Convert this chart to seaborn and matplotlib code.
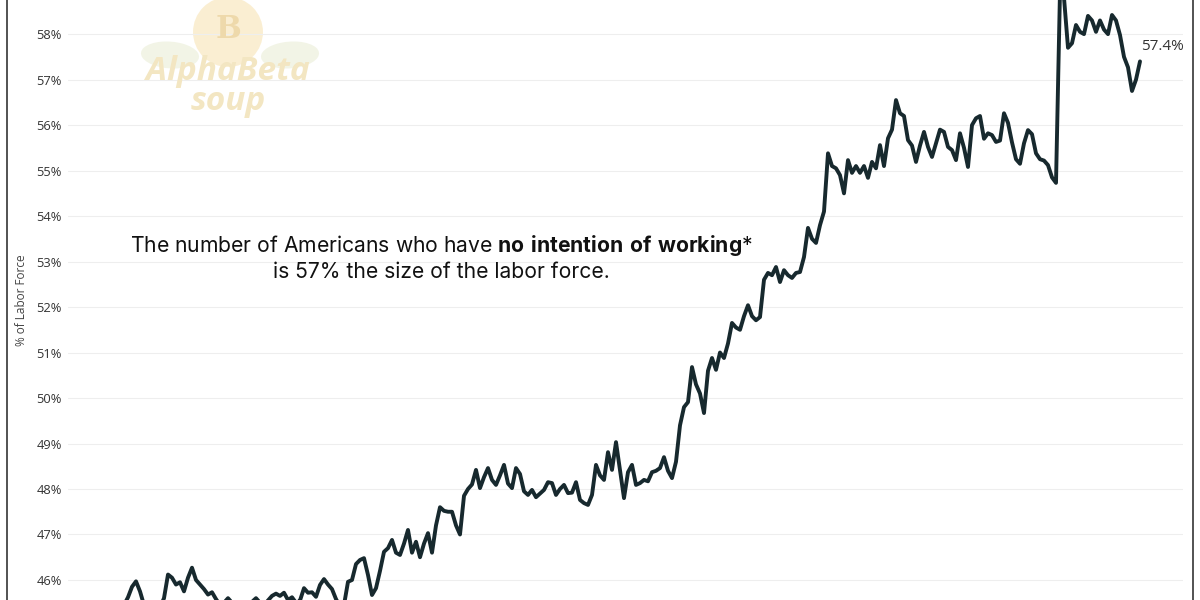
import numpy as np
import pandas as pd
import matplotlib
matplotlib.use("Agg")
import matplotlib.pyplot as plt
import seaborn as sns
from matplotlib.lines import Line2D
from matplotlib.patches import Ellipse

# ---- data (share of labor force, %) ----
share = [
    45.45, 45.62, 45.85, 45.97, 45.75, 45.45, 45.35, 45.30, 45.35, 45.40,
    45.60, 46.12, 46.05, 45.90, 45.95, 45.75, 46.05, 46.27, 46.00, 45.90,
    45.80, 45.68, 45.73, 45.58, 45.45, 45.50, 45.60, 45.50, 45.40, 45.45,
    45.50, 45.45, 45.52, 45.60, 45.50, 45.45, 45.55, 45.65, 45.70, 45.65,
    45.72, 45.56, 45.62, 45.50, 45.55, 45.82, 45.72, 45.73, 45.63, 45.89,
    46.02, 45.90, 45.80, 45.58, 45.42, 45.45, 45.96, 46.00, 46.35, 46.44,
    46.48, 46.11, 45.67, 45.82, 46.20, 46.62, 46.70, 46.88, 46.60, 46.55,
    46.80, 47.10, 46.60, 46.84, 46.50, 46.80, 47.03, 46.60, 47.20, 47.60,
    47.52, 47.50, 47.50, 47.20, 47.00, 47.85, 48.00, 48.10, 48.42, 48.02,
    48.26, 48.46, 48.20, 48.09, 48.30, 48.53, 48.12, 48.02, 48.46, 48.33,
    47.95, 47.87, 47.98, 47.82, 47.90, 47.98, 48.15, 48.13, 47.87, 48.00,
    48.09, 47.91, 47.92, 48.15, 47.76, 47.69, 47.65, 47.87, 48.53, 48.30,
    48.20, 48.81, 48.42, 49.03, 48.42, 47.80, 48.37, 48.53, 48.09, 48.13,
    48.20, 48.17, 48.37, 48.40, 48.46, 48.70, 48.40, 48.24, 48.60, 49.40,
    49.80, 49.91, 50.68, 50.30, 50.10, 49.67, 50.60, 50.88, 50.62, 51.00,
    50.88, 51.20, 51.65, 51.55, 51.50, 51.80, 52.04, 51.80, 51.71, 51.78,
    52.60, 52.75, 52.70, 52.88, 52.55, 52.81, 52.70, 52.64, 52.75, 52.77,
    53.10, 53.74, 53.50, 53.41, 53.80, 54.10, 55.38, 55.10, 55.05, 54.90,
    54.50, 55.23, 54.95, 55.10, 54.95, 55.10, 54.84, 55.19, 55.05, 55.56,
    55.10, 55.71, 55.90, 56.55, 56.26, 56.20, 55.67, 55.55, 55.19, 55.55,
    55.85, 55.52, 55.30, 55.60, 55.90, 55.85, 55.52, 55.45, 55.23, 55.82,
    55.50, 55.08, 56.00, 56.15, 56.20, 55.70, 55.82, 55.78, 55.63, 55.66,
    56.26, 56.05, 55.62, 55.25, 55.15, 55.60, 55.89, 55.80, 55.38, 55.25,
    55.22, 55.12, 54.85, 54.73, 58.95, 58.80, 57.70, 57.80, 58.20, 58.05,
    58.00, 58.40, 58.30, 58.05, 58.30, 58.10, 58.00, 58.42, 58.30, 57.98,
    57.50, 57.27, 56.75, 57.00, 57.40,
]
month = list(range(len(share)))

ytick_values = [46, 47, 48, 49, 50, 51, 52, 53, 54, 55, 56, 57, 58]
ytick_labels = [f"{v}%" for v in ytick_values]
ylabel_text = "% of Labor Force"
note_line1 = r"The number of Americans who have $\mathbf{no\ intention\ of\ working}$*"
note_line2 = "is 57% the size of the labor force."
end_label = "57.4%"
watermark_top = "AlphaBeta"
watermark_bottom = "soup"

# ---- style ----
sns.set_theme(style="white")
plt.rcParams['font.family'] = ['Open Sans', 'DejaVu Sans']
plt.rcParams['mathtext.fontset'] = 'custom'
plt.rcParams['mathtext.rm'] = 'Inter'
plt.rcParams['mathtext.bf'] = 'Inter:bold'

W, H = 1200, 600
fig = plt.figure(figsize=(12, 6), dpi=100)
fig.patch.set_facecolor("white")
ax = fig.add_axes([68 / W, 0, (1183 - 68) / W, 1])
ax.set_facecolor("white")

# watermark (faint)
wm_color = "#f3e6c2"
fig.add_artist(Ellipse((228 / W, 1 - 32 / H), 70 / W, 70 / H, transform=fig.transFigure,
                       facecolor="#f9e8c0", edgecolor="none", alpha=0.7, zorder=0))
fig.add_artist(Ellipse((170 / W, 1 - 55 / H), 60 / W, 26 / H, angle=-30, transform=fig.transFigure,
                       facecolor="#edf0dc", edgecolor="none", alpha=0.7, zorder=0))
fig.add_artist(Ellipse((290 / W, 1 - 55 / H), 60 / W, 26 / H, angle=30, transform=fig.transFigure,
                       facecolor="#edf0dc", edgecolor="none", alpha=0.7, zorder=0))
fig.text(228 / W, 1 - 30 / H, "B", ha="center", va="center", fontsize=22, fontweight="bold",
         color="#eed9ab", zorder=0.5, family="DejaVu Serif")
fig.text(228 / W, 1 - 72 / H, watermark_top, ha="center", va="center", fontsize=24,
         fontweight="bold", style="italic", color=wm_color, zorder=0.5)
fig.text(228 / W, 1 - 102 / H, watermark_bottom, ha="center", va="center", fontsize=24,
         fontweight="bold", style="italic", color=wm_color, zorder=0.5)

df = pd.DataFrame({"month": month, "share": share})
sns.lineplot(data=df, x="month", y="share", ax=ax, color="#17292e", linewidth=2.8, zorder=3)

ax.set_xlim(-14, 264.75)
ax.set_ylim(45.56, 58.75)
ax.set_yticks(ytick_values)
ax.set_yticklabels(ytick_labels)
ax.set_xticks([])
ax.set_xlabel("")
ax.set_ylabel("")
ax.grid(axis="y", color="#eeeeee", linewidth=0.8)
ax.grid(axis="x", visible=False)
for s in ax.spines.values():
    s.set_visible(False)
ax.tick_params(axis="y", length=0, pad=4.5, labelsize=9.3, labelcolor="#333333")
ax.patch.set_alpha(0)

fig.text(22 / W, 1 - 300 / H, ylabel_text, rotation=90, ha="center", va="center",
         fontsize=8.5, color="#444444")

# annotation text
fig.text(441 / W, 1 - 245 / H, note_line1, ha="center", va="center", fontsize=15.2,
         color="#111111", family="Inter")
fig.text(441 / W, 1 - 272 / H, note_line2, ha="center", va="center", fontsize=15.2,
         color="#111111", family="Inter")

# end label
ax.annotate(end_label, xy=(month[-1], share[-1]), xytext=(1, 10.5), textcoords="offset points",
            ha="left", va="center", fontsize=11, color="#333333")

# image frame lines
fig.add_artist(Line2D([7 / W, 7 / W], [0, 1], transform=fig.transFigure, color="#444444", linewidth=1.3))
fig.add_artist(Line2D([1193 / W, 1193 / W], [0, 1], transform=fig.transFigure, color="#444444", linewidth=1.3))

fig.savefig("out.png", dpi=100, facecolor="white")
